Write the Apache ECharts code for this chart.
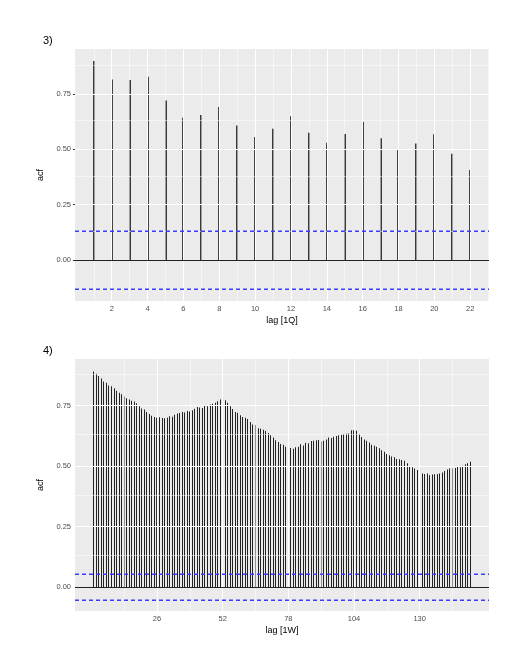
<!DOCTYPE html>
<html><head><meta charset="utf-8">
<script src="https://cdn.jsdelivr.net/npm/echarts@6/dist/echarts.min.js"></script>
<style>html,body{margin:0;padding:0;background:#fff}#c{width:516px;height:661px}</style>
</head><body><div id="c"></div>
<script>
const lagsQ = [1,2,3,4,5,6,7,8,9,10,11,12,13,14,15,16,17,18,19,20,21,22];
const acfQ = [0.899,0.815,0.813,0.828,0.720,0.643,0.655,0.691,0.608,0.556,0.593,0.649,0.575,0.530,0.569,0.623,0.550,0.500,0.526,0.568,0.480,0.407];
const ciQ = 0.132;
const acfW = [
0.891,0.882,0.873,0.862,0.850,0.845,0.833,0.830,0.822,0.812,
0.803,0.797,0.788,0.781,0.776,0.770,0.767,0.760,0.748,0.738,
0.734,0.724,0.716,0.708,0.703,0.700,0.702,0.699,0.698,0.700,
0.706,0.704,0.712,0.718,0.720,0.724,0.722,0.728,0.726,0.731,
0.737,0.745,0.742,0.740,0.750,0.748,0.755,0.758,0.762,0.768,
0.776,0.780,0.772,0.762,0.748,0.736,0.724,0.721,0.710,0.703,
0.700,0.695,0.682,0.672,0.670,0.657,0.655,0.650,0.645,0.637,
0.628,0.618,0.607,0.600,0.592,0.588,0.580,0.577,0.575,0.572,
0.578,0.580,0.590,0.585,0.597,0.595,0.604,0.605,0.607,0.608,
0.602,0.605,0.610,0.618,0.616,0.622,0.625,0.628,0.630,0.632,
0.634,0.635,0.648,0.648,0.646,0.632,0.620,0.610,0.605,0.598,
0.588,0.584,0.580,0.574,0.566,0.560,0.550,0.545,0.540,0.537,
0.530,0.528,0.525,0.522,0.512,0.500,0.495,0.490,0.484,0.478,
0.470,0.468,0.470,0.462,0.465,0.466,0.468,0.470,0.474,0.480,
0.486,0.490,0.491,0.492,0.500,0.495,0.502,0.508,0.512,0.518];
const lagsW = acfW.map((v,i)=>i+1);
const ciW = 0.052;
const yTicks = [0,0.25,0.5,0.75];
const yMinor = [-0.125,0.125,0.375,0.625,0.875];
const xTicksQ = [2,4,6,8,10,12,14,16,18,20,22];
const xMinorQ = [1,3,5,7,9,11,13,15,17,19,21,23];
const xTicksW = [26,52,78,104,130];
const xMinorW = [13,39,65,91,117,143];

const lab = {color:'#4D4D4D',fontSize:7.5,fontFamily:'Liberation Sans'};
function xAxis(i,min,max,ticks,name){return {type:'value',gridIndex:i,min:min,max:max,
  axisLine:{show:false},splitLine:{show:false},
  axisTick:{show:true,length:3,lineStyle:{color:'#333'},customValues:ticks},
  axisLabel:Object.assign({customValues:ticks,margin:4},lab),
  name:name,nameLocation:'middle',nameGap:15,nameTextStyle:{color:'#000',fontSize:9,fontFamily:'Liberation Sans'}};}
function yAxis(i,min,max){return {type:'value',gridIndex:i,min:min,max:max,
  axisLine:{show:false},splitLine:{show:false},
  axisTick:{show:true,length:3,lineStyle:{color:'#333'},customValues:yTicks},
  axisLabel:Object.assign({customValues:yTicks,margin:4,formatter:v=>v.toFixed(2)},lab),
  name:'acf',nameLocation:'middle',nameGap:24,nameTextStyle:{color:'#000',fontSize:9,fontFamily:'Liberation Sans'}};}
function gridSeries(i,xMaj,xMin){
  const d=[];
  yMinor.forEach(v=>d.push({yAxis:v,lineStyle:{width:0.5}}));
  xMin.forEach(v=>d.push({xAxis:v,lineStyle:{width:0.5}}));
  yTicks.forEach(v=>d.push({yAxis:v,lineStyle:{width:1.1}}));
  xMaj.forEach(v=>d.push({xAxis:v,lineStyle:{width:1.1}}));
  return {type:'line',xAxisIndex:i,yAxisIndex:i,data:[],silent:true,z:1,
    markLine:{silent:true,symbol:'none',label:{show:false},animation:false,lineStyle:{color:'#fff',type:'solid'},data:d}};
}
function hlines(i,ci){
  return {type:'custom',xAxisIndex:i,yAxisIndex:i,data:[[0,0,0],[0,ci,1],[0,-ci,1]],z:5,silent:true,animation:false,
    renderItem:(params,api)=>{
      const cs=params.coordSys;
      const y=Math.round(api.coord([0,api.value(1)])[1]);
      const blue=api.value(2)===1;
      if(!blue) return {type:'rect',shape:{x:cs.x,y:y,width:cs.width,height:1},style:{fill:'#222'}};
      const kids=[];
      for(let x=cs.x;x<cs.x+cs.width;x+=7){
        kids.push({type:'rect',shape:{x:x,y:y-0.5,width:Math.min(4,cs.x+cs.width-x),height:1.5},style:{fill:'#3b3bff'}});
      }
      return {type:'group',children:kids};
    }};
}
function bars(i,xs,ys,w,color){
  return {type:'custom',xAxisIndex:i,yAxisIndex:i,data:xs.map((x,k)=>[x,ys[k]]),z:3,animation:false,
    renderItem:(params,api)=>{
      const top=api.coord([api.value(0),api.value(1)]);
      const bot=api.coord([api.value(0),0]);
      const x=Math.round(top[0]-w/2);
      return {type:'rect',shape:{x:x,y:top[1],width:w,height:bot[1]-top[1]},style:{fill:color}};
    }};
}
const chart = echarts.init(document.getElementById('c'));
chart.setOption({
  animation:false,
  title:[{text:'3)',left:38,top:30,textStyle:{fontSize:11,fontWeight:'normal',color:'#000',fontFamily:'Liberation Sans'}},
         {text:'4)',left:38,top:340,textStyle:{fontSize:11,fontWeight:'normal',color:'#000',fontFamily:'Liberation Sans'}}],
  grid:[{left:75,top:49,width:414,height:252,show:true,backgroundColor:'#EBEBEB',borderWidth:0},
        {left:75,top:359,width:414,height:252,show:true,backgroundColor:'#EBEBEB',borderWidth:0}],
  xAxis:[xAxis(0,-0.05,23.05,xTicksQ,'lag [1Q]'),xAxis(1,-6.45,157.45,xTicksW,'lag [1W]')],
  yAxis:[yAxis(0,-0.185,0.953),yAxis(1,-0.099,0.943)],
  series:[gridSeries(0,xTicksQ,xMinorQ),gridSeries(1,xTicksW,xMinorW),
    bars(0,lagsQ,acfQ,2,'#3a3a3a'),bars(1,lagsW,acfW,1,'#222'),
    hlines(0,ciQ),hlines(1,ciW)]
});
</script></body></html>
